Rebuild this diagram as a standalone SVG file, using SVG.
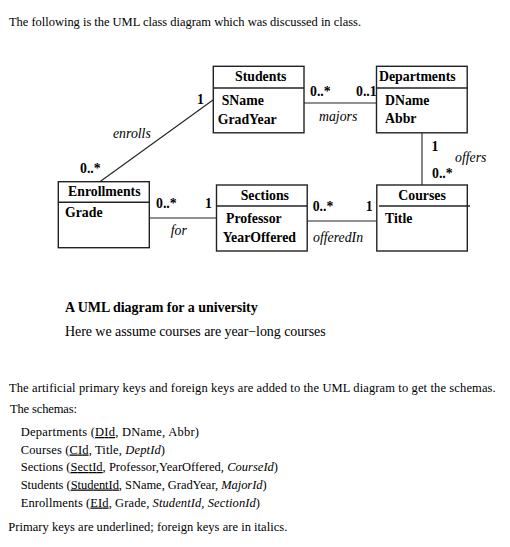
<svg xmlns="http://www.w3.org/2000/svg" width="510" height="547" viewBox="0 0 510 547">
<style>
.box{fill:#fff;stroke:#222;stroke-width:1.4}
.div{stroke:#222;stroke-width:1.4}
.con{stroke:#222;stroke-width:1.1;fill:none}
.b{font-family:"Liberation Serif","Times New Roman",serif;font-weight:bold;font-size:13.8px;fill:#000}
.i{font-family:"Liberation Serif","Times New Roman",serif;font-style:italic;font-size:13.8px;fill:#000}
.doc{font-family:"Liberation Serif","Times New Roman",serif;font-size:12.5px;fill:#000}
.cap{font-family:"Liberation Serif","Times New Roman",serif;font-size:14px;fill:#000}
.u{text-decoration:underline;text-decoration-thickness:1.6px}
.it{font-style:italic}
</style>
<rect width="510" height="547" fill="#fff"/>
<text class="doc" x="9" y="25.5" textLength="352" lengthAdjust="spacing">The following is the UML class diagram which was discussed in class.</text>

<g id="connectors">
  <line class="con" x1="99.5" y1="182" x2="213" y2="100"/>
  <line class="con" x1="304" y1="103" x2="376.5" y2="103"/>
  <line class="con" x1="422" y1="133" x2="422" y2="185"/>
  <line class="con" x1="149" y1="218" x2="216.5" y2="218"/>
  <line class="con" x1="307" y1="221" x2="377" y2="221"/>
  <text class="b" x="197" y="104">1</text>
  <text class="i" x="113" y="138">enrolls</text>
  <text class="b" x="80" y="172.7">0..*</text>
  <text class="b" x="310" y="96">0..*</text>
  <text class="b" x="356" y="96">0..1</text>
  <text class="i" x="319" y="120.7">majors</text>
  <text class="b" x="431.5" y="151">1</text>
  <text class="i" x="455" y="161.7">offers</text>
  <text class="b" x="432" y="178">0..*</text>
  <text class="b" x="156" y="208">0..*</text>
  <text class="b" x="205" y="208">1</text>
  <text class="i" x="170.7" y="235">for</text>
  <text class="b" x="312.7" y="211">0..*</text>
  <text class="b" x="365.7" y="211">1</text>
  <text class="i" x="313" y="241.7">offeredIn</text>
</g>

<g id="students">
  <rect class="box" x="213.3" y="66.3" width="90.7" height="66.5"/>
  <line class="div" x1="213.3" y1="88" x2="304" y2="88"/>
  <text class="b" x="235" y="81">Students</text>
  <text class="b" x="221.7" y="105">SName</text>
  <text class="b" x="217.7" y="124">GradYear</text>
</g>

<g id="departments">
  <rect class="box" x="376.5" y="66.3" width="90.7" height="66.5"/>
  <line class="div" x1="376.5" y1="88" x2="467.2" y2="88"/>
  <text class="b" x="379" y="81">Departments</text>
  <text class="b" x="385" y="105">DName</text>
  <text class="b" x="385" y="123">Abbr</text>
</g>

<g id="enrollments">
  <rect class="box" x="58.3" y="181.7" width="91" height="66"/>
  <line class="div" x1="58.3" y1="202.3" x2="149.3" y2="202.3"/>
  <text class="b" x="68" y="195.7">Enrollments</text>
  <text class="b" x="65" y="217">Grade</text>
</g>

<g id="sections">
  <rect class="box" x="216.5" y="185" width="90.7" height="66"/>
  <line class="div" x1="216.5" y1="206" x2="307.2" y2="206"/>
  <text class="b" x="240.7" y="200">Sections</text>
  <text class="b" x="226" y="223.3">Professor</text>
  <text class="b" x="222.7" y="241.7">YearOffered</text>
</g>

<g id="courses">
  <rect class="box" x="376.8" y="185" width="90.5" height="66"/>
  <line class="div" x1="379" y1="206" x2="470" y2="206"/>
  <text class="b" x="398.3" y="200">Courses</text>
  <text class="b" x="385" y="223.3">Title</text>
</g>

<text class="cap" x="65" y="311.7" font-weight="bold" textLength="192.7" lengthAdjust="spacing">A UML diagram for a university</text>
<text class="cap" x="65" y="335.7" textLength="260.7" lengthAdjust="spacing">Here we assume courses are year−long courses</text>

<text class="doc" x="9" y="391.5" textLength="486.7" lengthAdjust="spacing">The artificial primary keys and foreign keys are added to the UML diagram to get the schemas.</text>
<text class="doc" x="10" y="413.3" textLength="67" lengthAdjust="spacing">The schemas:</text>

<text class="doc" x="20.7" y="436" textLength="178.3" lengthAdjust="spacing">Departments (<tspan class="u">DId</tspan>, DName, Abbr)</text>
<text class="doc" x="20.7" y="453.5" textLength="144.3" lengthAdjust="spacing">Courses (<tspan class="u">CId</tspan>, Title, <tspan class="it">DeptId</tspan>)</text>
<text class="doc" x="20.7" y="471" textLength="257.3" lengthAdjust="spacing">Sections (<tspan class="u">SectId</tspan>, Professor,YearOffered, <tspan class="it">CourseId</tspan>)</text>
<text class="doc" x="20.7" y="488.5" textLength="246" lengthAdjust="spacing">Students (<tspan class="u">StudentId</tspan>, SName, GradYear, <tspan class="it">MajorId</tspan>)</text>
<text class="doc" x="20.7" y="506.5" textLength="239.3" lengthAdjust="spacing">Enrollments (<tspan class="u">EId</tspan>, Grade, <tspan class="it">StudentId, SectionId</tspan>)</text>
<text class="doc" x="8.3" y="530.5" textLength="279" lengthAdjust="spacing">Primary keys are underlined; foreign keys are in italics.</text>
</svg>
